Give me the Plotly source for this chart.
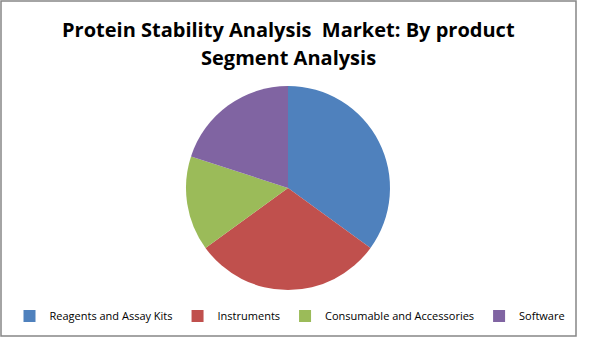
import plotly.graph_objects as go

categories = ["Reagents and Assay Kits", "Instruments", "Consumable and Accessories", "Software"]
shares = [35, 30, 15, 20]
colors = ["#4F81BD", "#C0504D", "#9BBB59", "#8064A2"]
title_lines = ["Protein Stability Analysis  Market: By product", "Segment Analysis"]

W, H = 589, 348

fig = go.Figure(go.Pie(
    labels=categories,
    values=shares,
    sort=False,
    direction="clockwise",
    rotation=0,
    marker=dict(colors=colors, line=dict(width=0)),
    textinfo="none",
    hoverinfo="skip",
    domain=dict(x=[186 / W, 390 / W], y=[1 - 290 / H, 1 - 86 / H]),
))

title_ys = [29, 58]
annotations = [
    dict(
        text="<b>" + line + "</b>",
        xref="paper", yref="paper",
        x=288 / W, y=1 - ty / H, xanchor="center", yanchor="middle",
        showarrow=False,
        font=dict(size=20, family="Open Sans, sans-serif", color="#000000"),
    )
    for line, ty in zip(title_lines, title_ys)
]

fig.update_layout(
    width=W, height=H,
    margin=dict(l=0, r=0, t=0, b=0),
    paper_bgcolor="white",
    plot_bgcolor="white",
    font=dict(family="Open Sans, sans-serif", color="#000000"),
    showlegend=True,
    legend=dict(
        orientation="h",
        x=290 / W, xanchor="center",
        y=1 - 316 / H, yanchor="middle",
        font=dict(size=11, color="#000000"),
        itemclick=False, itemdoubleclick=False,
        traceorder="normal",
    ),
    shapes=[dict(
        type="rect", xref="paper", yref="paper",
        x0=1 / W, x1=576 / W, y0=1 - 336 / H, y1=1 - 1 / H,
        line=dict(color="#868686", width=1.5),
        fillcolor="rgba(0,0,0,0)",
    )],
    annotations=annotations,
)

fig.write_html("out.html")
